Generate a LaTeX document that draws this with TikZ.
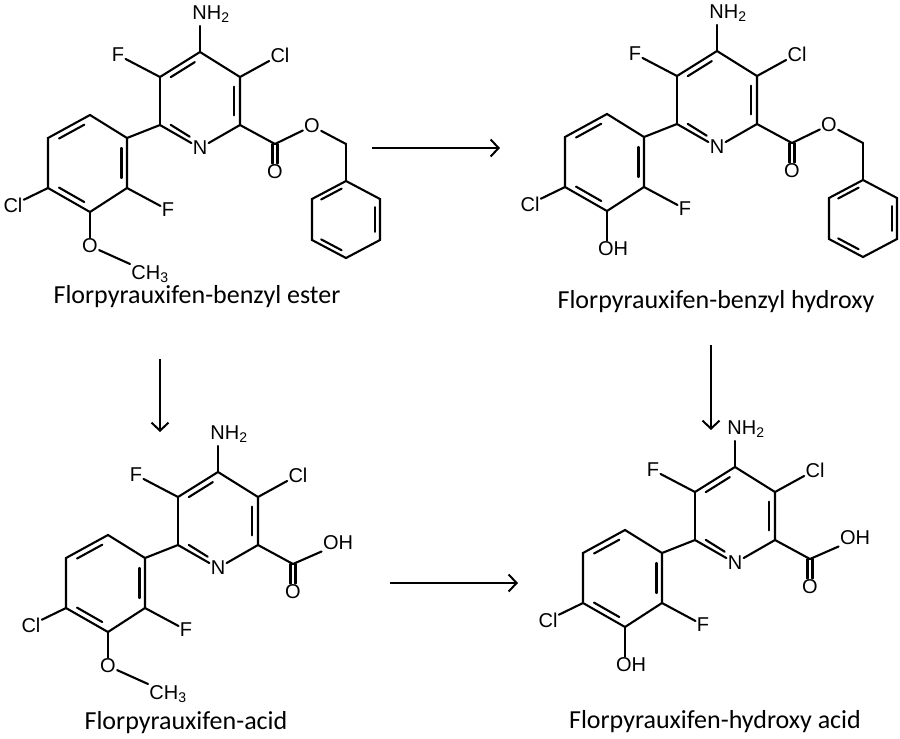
\documentclass[tikz,border=0pt]{standalone}
\usepackage{fontspec}
\setmainfont{Carlito}
\newfontfamily\chemfont{Liberation Sans}
\usetikzlibrary{calc,arrows.meta}
\tikzset{
  bond/.style={line width=2.1pt,line cap=round},
  atom/.style={inner sep=1.2pt,font=\chemfont\fontsize{20}{20}\selectfont},
  caption/.style={font=\fontsize{26}{26}\selectfont,inner sep=0pt},
  rxn/.style={line width=2pt,-{Straight Barb[length=8pt,width=17pt,line width=2pt]}}
}
\newcommand\dbl[3]{\draw[bond] ($($(#1)!.15!(#2)$)!.14!(#3)$) -- ($($(#2)!.15!(#1)$)!.14!(#3)$);}
\newcommand\mymol[5]{%
\begin{scope}[shift={(#2,#3)}]
 \coordinate (#1c4) at (0,0);
 \coordinate (#1c3) at (40,25);
 \coordinate (#1c2) at (40,73);
 \coordinate (#1nv) at (0,98);
 \coordinate (#1c6) at (-40,73);
 \coordinate (#1c5) at (-40,25);
 \coordinate (#1pc) at (0,49);
 \node[atom] (#1N) at (0,96) {N};
 \node[atom] (#1NH) at (11,-38) {NH\textsubscript{2}};
 \coordinate (#1nhb) at (0,-26);
 \node[atom] (#1F) at (-82,3) {F};
 \node[atom] (#1Cl) at (80,3) {Cl};
 \draw[bond] (#1c4) -- (#1nhb);
 \draw[bond] (#1c5) -- (#1c4) -- (#1c3) -- (#1c2);
 \draw[bond] (#1c5) -- (#1c6);
 \draw[bond] (#1c2) -- (#1N);
 \draw[bond] (#1c6) -- (#1N);
 \dbl{#1c4}{#1c5}{#1pc}
 \dbl{#1c3}{#1c2}{#1pc}
 \draw[bond] ($($(#1c6)!.15!(#1nv)$)!.14!(#1pc)$) -- ($($(#1nv)!.3!(#1c6)$)!.14!(#1pc)$);
 \draw[bond] (#1c5) -- (#1F);
 \draw[bond] (#1c3) -- (#1Cl);
 % phenyl
 \coordinate (#1p1) at (-73,86);
 \coordinate (#1p2) at (-110,63);
 \coordinate (#1p3) at (-152,86);
 \coordinate (#1p4) at (-152,136);
 \coordinate (#1p5) at (-110,160);
 \coordinate (#1p6) at (-73,136);
 \coordinate (#1qc) at (-112,111);
 \draw[bond] (#1c6) -- (#1p1);
 \draw[bond] (#1p1) -- (#1p2) -- (#1p3) -- (#1p4) -- (#1p5) -- (#1p6) -- cycle;
 \dbl{#1p2}{#1p3}{#1qc}
 \dbl{#1p1}{#1p6}{#1qc}
 \dbl{#1p4}{#1p5}{#1qc}
 \node[atom] (#1pCl) at (-187,153) {Cl};
 \node[atom] (#1pF) at (-32,158) {F};
 \draw[bond] (#1p4) -- (#1pCl);
 \draw[bond] (#1p6) -- (#1pF);
 \ifnum#5=1
   \node[atom] (#1O) at (-110,194) {O};
   \node[atom] (#1Me) at (-50,222) {CH\textsubscript{3}};
   \draw[bond] (#1p5) -- (#1O);
   \draw[bond] (#1O) -- (#1Me.north west);
 \else
   \node[atom] (#1OH) at (-104,198) {OH};
   \draw[bond] (#1p5) -- (#1p5 |- #1OH.north);
 \fi
 % carboxyl
 \coordinate (#1cc) at (75,92);
 \draw[bond] (#1c2) -- (#1cc);
 \node[atom] (#1Od) at (75,120) {O};
 \draw[bond] ($(#1cc)+(-2.5,0)$) -- ($(#1Od.north)+(-2.5,0)$);
 \draw[bond] ($(#1cc)+(2.5,0)$) -- ($(#1Od.north)+(2.5,0)$);
 \ifnum#4=1
   \node[atom] (#1Oe) at (112,74) {O};
   \draw[bond] (#1cc) -- (#1Oe);
   \coordinate (#1ch) at (146,92);
   \draw[bond] (#1Oe) -- (#1ch);
   \coordinate (#1b1) at (146,129);
   \coordinate (#1b2) at (180,147);
   \coordinate (#1b3) at (180,188);
   \coordinate (#1b4) at (146,206);
   \coordinate (#1b5) at (112,188);
   \coordinate (#1b6) at (112,147);
   \coordinate (#1bc) at (146,167);
   \draw[bond] (#1ch) -- (#1b1);
   \draw[bond] (#1b1) -- (#1b2) -- (#1b3) -- (#1b4) -- (#1b5) -- (#1b6) -- cycle;
   \dbl{#1b1}{#1b6}{#1bc}
   \dbl{#1b2}{#1b3}{#1bc}
   \dbl{#1b4}{#1b5}{#1bc}
 \else
   \node[atom] (#1OH2) at (120,71) {OH};
   \draw[bond] (#1cc) -- (#1OH2.south west);
 \fi
\end{scope}}
\begin{document}
\begin{tikzpicture}[x=1pt,y=-1pt]
\useasboundingbox (0,0) rectangle (900,739);
\mymol{a}{200}{52}{1}{1}
\mymol{b}{717}{51}{1}{0}
\mymol{c}{218}{472}{0}{1}
\mymol{d}{735}{467}{0}{0}
\node[caption] (capa) at (197,297) {Florpyrauxifen-benzyl ester};
\node[caption] (capb) at (716,302) {Florpyrauxifen-benzyl hydroxy};
\node[caption] (capc) at (186,723) {Florpyrauxifen-acid};
\node[caption] (capd) at (715,722) {Florpyrauxifen-hydroxy acid};
\coordinate (r1s) at (372,148); \coordinate (r1e) at (500,148);
\coordinate (r2s) at (160,359); \coordinate (r2e) at (160,432);
\coordinate (r3s) at (711,345); \coordinate (r3e) at (711,430);
\coordinate (r4s) at (390,583); \coordinate (r4e) at (518,583);
\draw[rxn] (r1s) -- (r1e);
\draw[rxn] (r2s) -- (r2e);
\draw[rxn] (r3s) -- (r3e);
\draw[rxn] (r4s) -- (r4e);
\end{tikzpicture}
\end{document}
